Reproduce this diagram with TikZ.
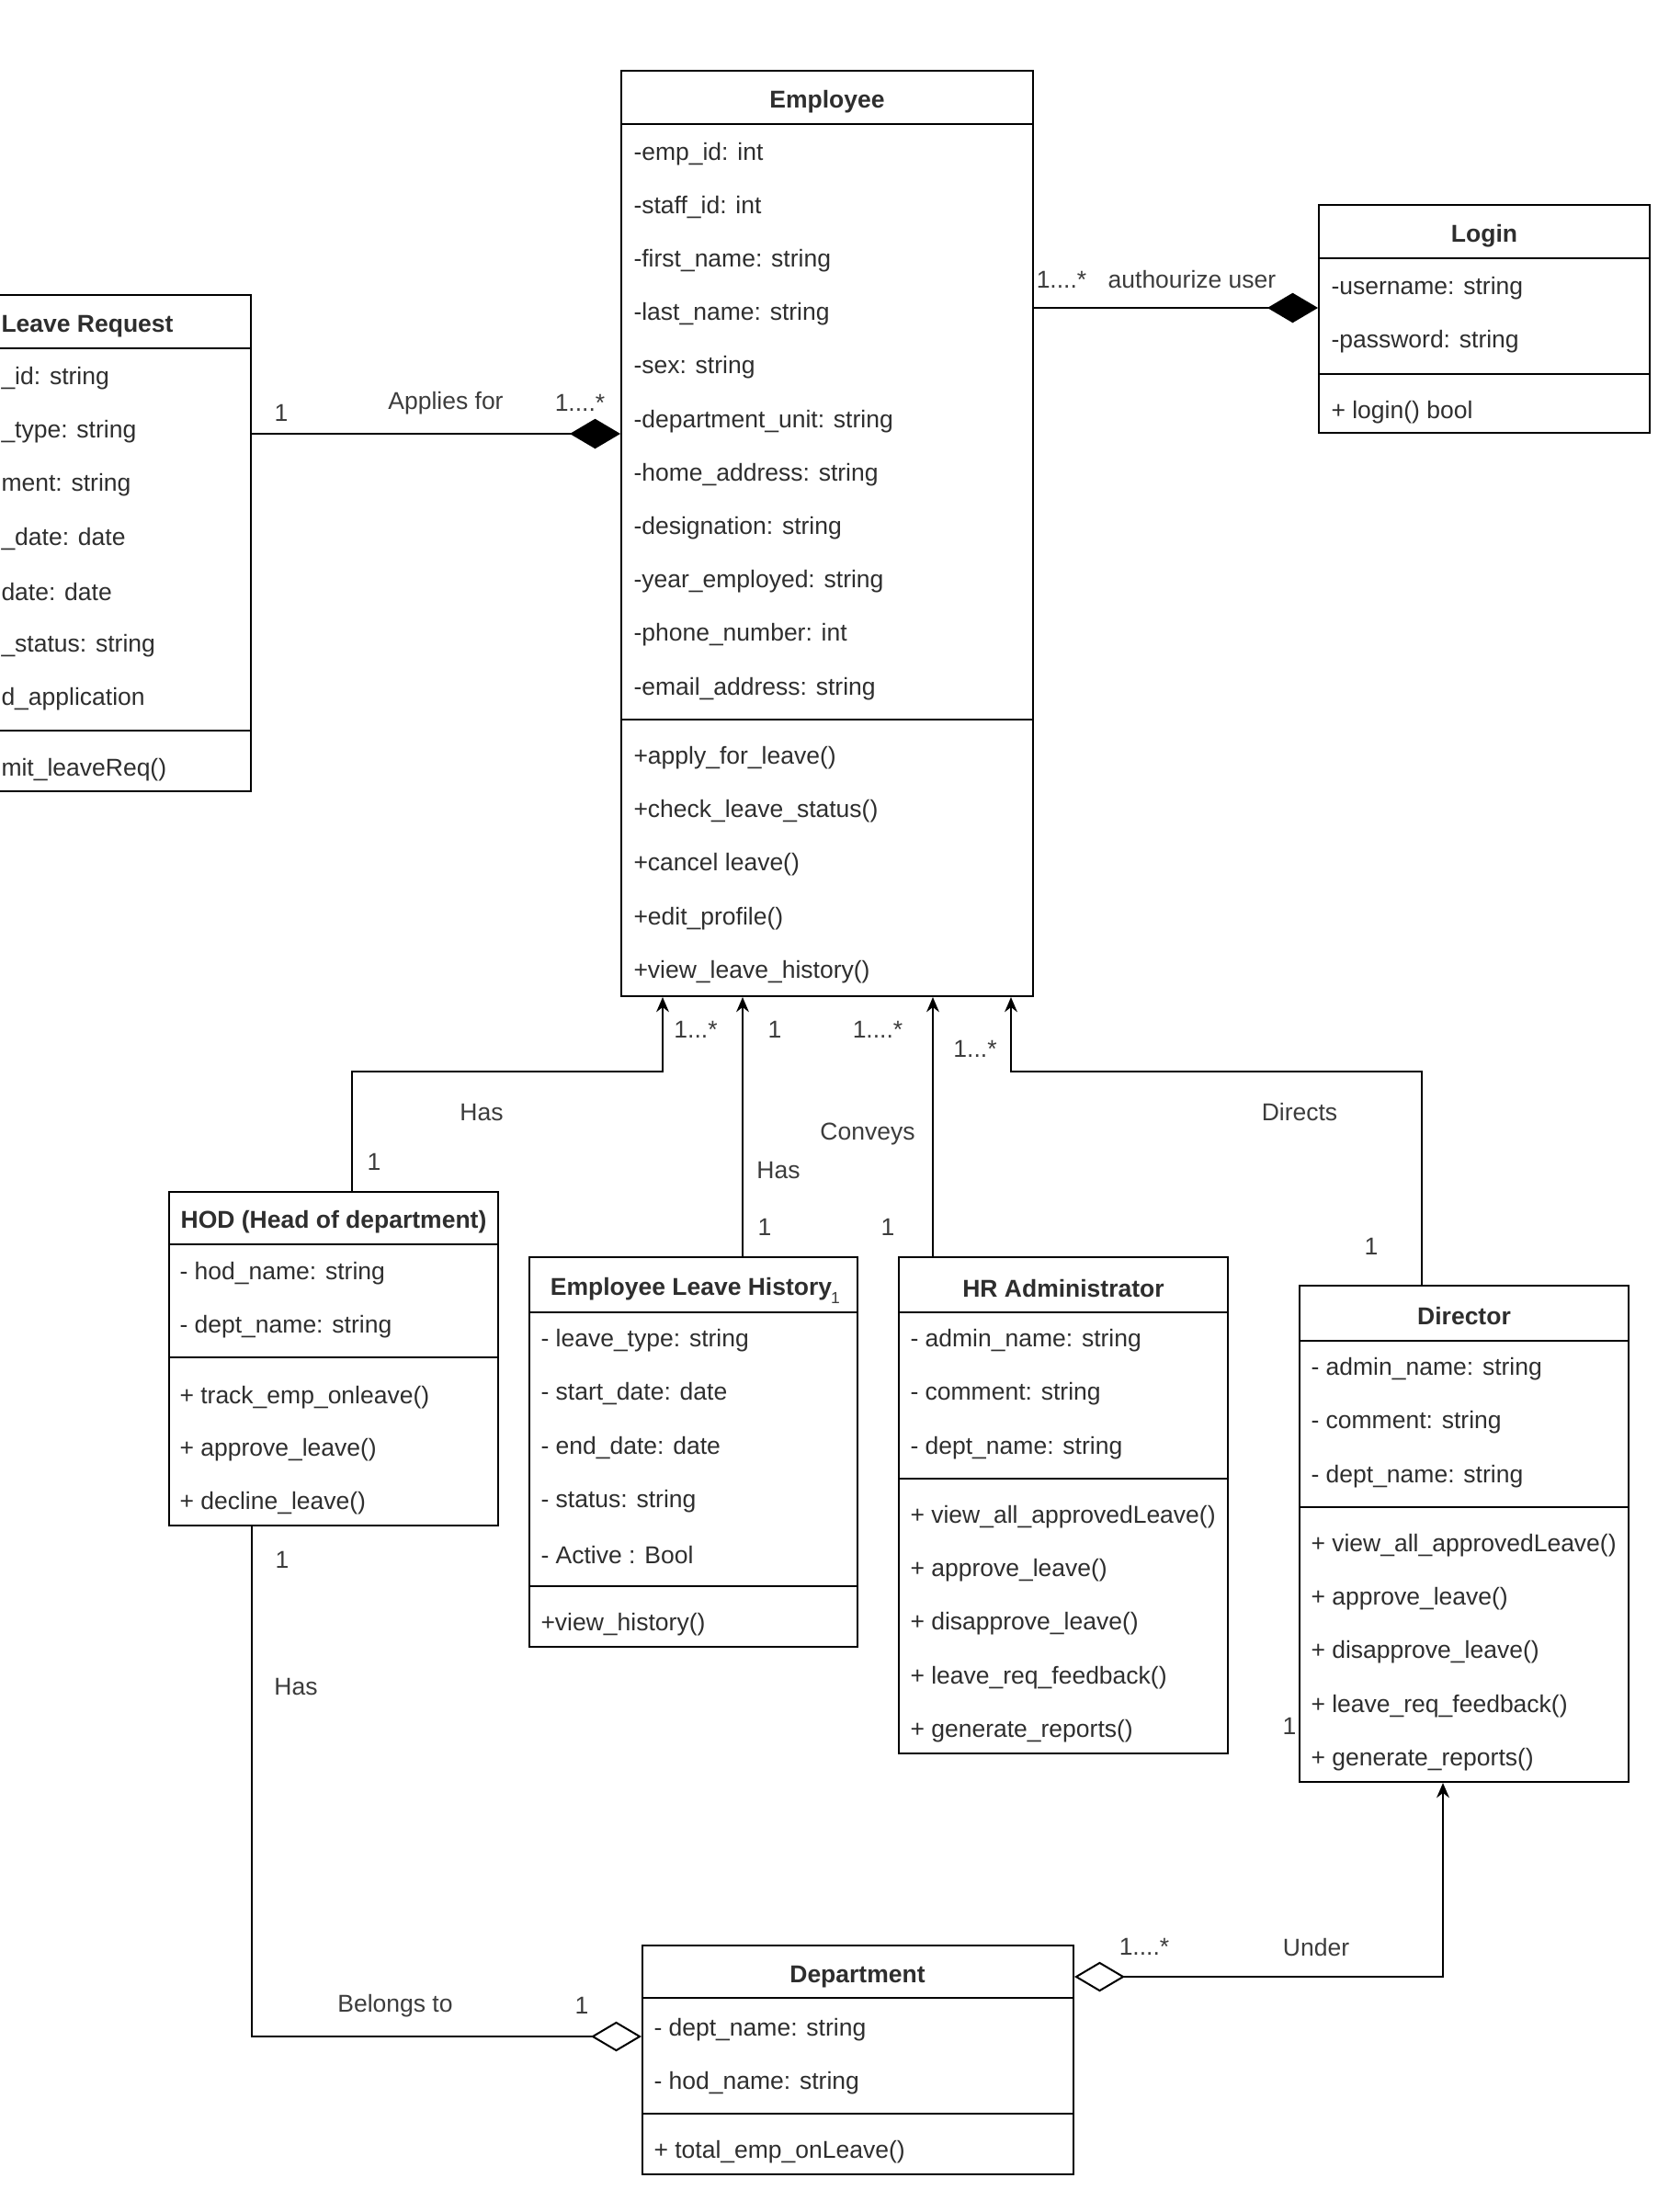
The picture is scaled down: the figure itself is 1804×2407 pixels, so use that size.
\documentclass[tikz,border=0pt]{standalone}
\usepackage{fontspec}
\setmainfont{Liberation Sans}
\usetikzlibrary{arrows.meta,fit,calc}
\definecolor{txt}{HTML}{2E2E2E}
\definecolor{lbltxt}{HTML}{3C3C3C}
\begin{document}
\begin{tikzpicture}[x=0.4pt,y=-0.4pt,
  box/.style={draw=black, line width=0.8pt, inner sep=0pt},
  attr/.style={anchor=west, inner sep=0pt, yshift=-1.3pt, text=txt, font=\fontsize{10.6}{12}\selectfont},
  ttl/.style={inner sep=0pt, yshift=-1.3pt, text=txt, font=\fontsize{10.6}{12}\selectfont\bfseries},
  lbl/.style={inner sep=0pt, yshift=-1pt, text=lbltxt, font=\fontsize{10.6}{12}\selectfont},
  sep/.style={line width=0.8pt},
  con/.style={line width=0.8pt},
  arr/.style={con, -{Stealth[length=6.5pt,width=5.5pt]}},
  comp/.style={con, -{Diamond[length=22pt,width=13pt]}},
  aggr/.style={con, -{Diamond[open,length=22pt,width=13pt,fill=white]}},
]
\useasboundingbox (0,0) rectangle (1804,2407);
\fill[white] (0,0) rectangle (1804,2407);

% ---------------- Employee ----------------
\node[box, fit={(676,77) (1124,1084)}] (emp) {};
\draw[sep] (676,135) -- (1124,135);
\draw[sep] (676,783) -- (1124,783);
\node[ttl] (empT) at (900,107) {Employee};
\foreach \t [count=\i] in {-emp\_id: int,-staff\_id: int,-first\_name: string,-last\_name: string,-sex: string,-department\_unit: string,-home\_address: string,-designation: string,-year\_employed: string,-phone\_number: int,-email\_address: string}
  \node[attr] (ea\i) at (689,{164+(\i-1)*58.2}) {\t};
\foreach \t [count=\i] in {+apply\_for\_leave(),+check\_leave\_status(),+cancel leave(),+edit\_profile(),+view\_leave\_history()}
  \node[attr] (em\i) at (689,{821+(\i-1)*58.3}) {\t};

% ---------------- Login ----------------
\node[box, fit={(1435,223) (1795,471)}] (login) {};
\draw[sep] (1435,281) -- (1795,281);
\draw[sep] (1435,407) -- (1795,407);
\node[ttl] (loginT) at (1615,253) {Login};
\node[attr] (la1) at (1448,310) {-username: string};
\node[attr] (la2) at (1448,368) {-password: string};
\node[attr] (lm1) at (1448,445) {+ login() bool};

% ---------------- Leave Request ----------------
\node[box, fit={(-40,321) (273,861)}] (lr) {};
\draw[sep] (-40,379) -- (273,379);
\draw[sep] (-40,795) -- (273,795);
\node[ttl, anchor=west] (lrT) at (1,352) {Leave Request};
\foreach \t [count=\i] in {\_id: string,\_type: string,ment: string,\_date: date,date: date,\_status: string,d\_application}
  \node[attr] (lra\i) at (1,{408+(\i-1)*58.3}) {\t};
\node[attr] (lrm1) at (1,834) {mit\_leaveReq()};

% ---------------- HOD ----------------
\node[box, fit={(184,1297) (542,1660)}] (hod) {};
\draw[sep] (184,1354) -- (542,1354);
\draw[sep] (184,1477) -- (542,1477);
\node[ttl] (hodT) at (363,1326) {HOD (Head of department)};
\node[attr] (ha1) at (195,1382) {- hod\_name: string};
\node[attr] (ha2) at (195,1440) {- dept\_name: string};
\node[attr] (hm1) at (195,1517) {+ track\_emp\_onleave()};
\node[attr] (hm2) at (195,1574) {+ approve\_leave()};
\node[attr] (hm3) at (195,1632) {+ decline\_leave()};

% ---------------- Employee Leave History ----------------
\node[box, fit={(576,1368) (933,1792)}] (elh) {};
\draw[sep] (576,1428) -- (933,1428);
\draw[sep] (576,1726) -- (933,1726);
\node[ttl] (elhT) at (752,1399) {Employee Leave History};
\node[lbl, font=\fontsize{7}{8}\selectfont] (elh1) at (909,1410) {1};
\foreach \t [count=\i] in {- leave\_type: string,- start\_date: date,- end\_date: date,- status: string,- Active : Bool}
  \node[attr] (ela\i) at (588,{1455+(\i-1)*58.4}) {\t};
\node[attr] (elm1) at (588,1764) {+view\_history()};

% ---------------- HR Administrator ----------------
\node[box, fit={(978,1368) (1336,1908)}] (hr) {};
\draw[sep] (978,1428) -- (1336,1428);
\draw[sep] (978,1609) -- (1336,1609);
\node[ttl] (hrT) at (1157,1399) {HR Administrator};
\foreach \t [count=\i] in {- admin\_name: string,- comment: string,- dept\_name: string}
  \node[attr] (hra\i) at (990,{1455+(\i-1)*58.5}) {\t};
\foreach \t [count=\i] in {+ view\_all\_approvedLeave(),+ approve\_leave(),+ disapprove\_leave(),+ leave\_req\_feedback(),+ generate\_reports()}
  \node[attr] (hrm\i) at (990,{1647+(\i-1)*58.4}) {\t};

% ---------------- Director ----------------
\node[box, fit={(1414,1399) (1772,1939)}] (dir) {};
\draw[sep] (1414,1459) -- (1772,1459);
\draw[sep] (1414,1640) -- (1772,1640);
\node[ttl] (dirT) at (1593,1429) {Director};
\foreach \t [count=\i] in {- admin\_name: string,- comment: string,- dept\_name: string}
  \node[attr] (dra\i) at (1426,{1486+(\i-1)*58.5}) {\t};
\foreach \t [count=\i] in {+ view\_all\_approvedLeave(),+ approve\_leave(),+ disapprove\_leave(),+ leave\_req\_feedback(),+ generate\_reports()}
  \node[attr] (drm\i) at (1426,{1678+(\i-1)*58.3}) {\t};

% ---------------- Department ----------------
\node[box, fit={(699,2117) (1168,2366)}] (dept) {};
\draw[sep] (699,2174) -- (1168,2174);
\draw[sep] (699,2300) -- (1168,2300);
\node[ttl] (deptT) at (933,2148) {Department};
\node[attr] (da1) at (711,2205) {- dept\_name: string};
\node[attr] (da2) at (711,2263) {- hod\_name: string};
\node[attr] (dm1) at (711,2338) {+ total\_emp\_onLeave()};

% ---------------- Connectors ----------------
\draw[comp] ($(lr.north east)+(0,152)$) -- ($(emp.north west)+(0,396)$);
\draw[comp] ($(emp.north east)+(0,259)$) -- ($(login.north west)+(0,113)$);
\draw[arr] ($(hod.north west)+(200,0)$) -- ++(0,-130) -| ($(emp.south west)+(46,0)$);
\draw[arr] ($(elh.north west)+(233,0)$) -- ($(emp.south west)+(133,0)$);
\draw[arr] ($(hr.north west)+(38,0)$) -- ($(emp.south west)+(340,0)$);
\draw[arr] ($(dir.north west)+(134,0)$) -- ++(0,-232) -| ($(emp.south west)+(425,0)$);
\draw[aggr] ($(hod.south west)+(91,0)$) |- ($(dept.north west)+(0,100)$);
\draw[con, {Stealth[length=6.5pt,width=5.5pt]}-{Diamond[open,length=22pt,width=13pt,fill=white]}] ($(dir.south west)+(157,0)$) |- ($(dept.north east)+(0,35)$);

% ---------------- Labels ----------------
\node[lbl] (l1) at (306,447) {1};
\node[lbl] (l2) at (485,436) {Applies for};
\node[lbl] (l3) at (631,436) {1....*};
\node[lbl] (l4) at (1155,302) {1....*};
\node[lbl] (l5) at (1297,302) {authourize user};
\node[lbl] (l6) at (524,1208) {Has};
\node[lbl] (l7) at (407,1262) {1};
\node[lbl] (l8) at (757,1118) {1...*};
\node[lbl] (l9) at (843,1118) {1};
\node[lbl] (l10) at (847,1271) {Has};
\node[lbl] (l11) at (832,1333) {1};
\node[lbl] (l12) at (955,1118) {1....*};
\node[lbl] (l13) at (944,1231) {Conveys};
\node[lbl] (l14) at (966,1333) {1};
\node[lbl] (l15) at (1414,1208) {Directs};
\node[lbl] (l16) at (1492,1354) {1};
\node[lbl] (l17) at (1061,1139) {1...*};
\node[lbl] (l18) at (307,1695) {1};
\node[lbl] (l19) at (322,1833) {Has};
\node[lbl] (l20) at (430,2180) {Belongs to};
\node[lbl] (l21) at (633,2180) {1};
\node[lbl] (l22) at (1245,2116) {1....*};
\node[lbl] (l23) at (1432,2116) {Under};
\node[lbl] (l24) at (1403,1876) {1};
\end{tikzpicture}
\end{document}
